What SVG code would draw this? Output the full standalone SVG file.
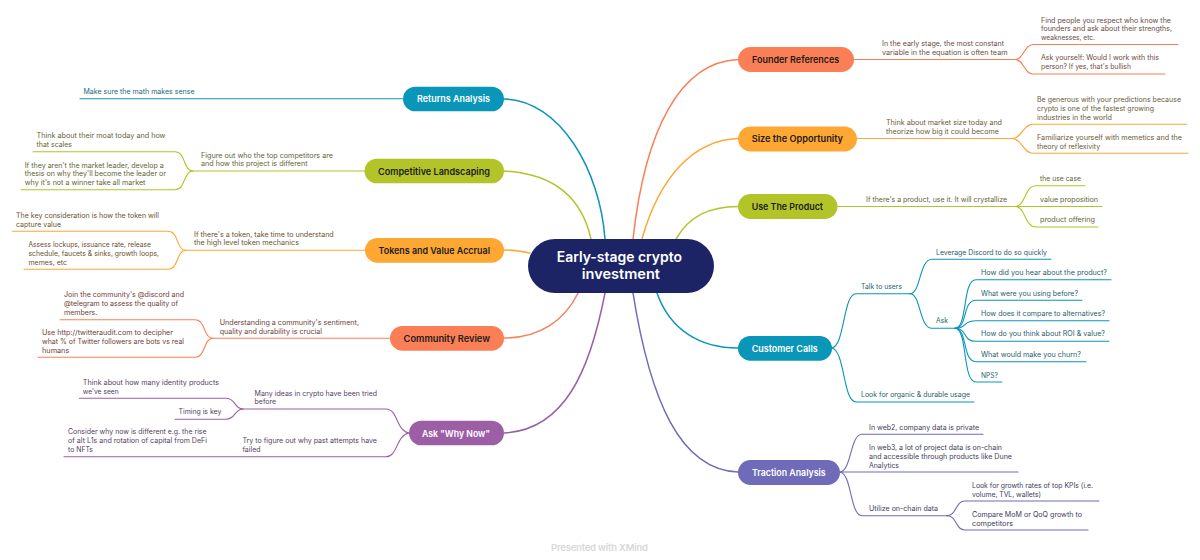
<svg xmlns="http://www.w3.org/2000/svg" width="1200" height="560" viewBox="0 0 1200 560">
<style>
text{font-family:"Inter","Open Sans","Liberation Sans",sans-serif;font-size:7.3px;font-weight:400}
.n text{font-size:9.2px;font-weight:600;fill:#1c1c1c}
.n text.w{fill:#fff}
.c text{font-size:14px;font-weight:600;fill:#fff}
path{fill:none;stroke-linecap:round}
.m{stroke-width:1.5}
.s{stroke-width:1.1}
.red{stroke:#fb7f56}.ora{stroke:#ffa733}.oli{stroke:#b3c428}.blu{stroke:#0a96b8}.vio{stroke:#6f6bb8}.pur{stroke:#9c5fa6}
.tred text{fill:#6e4a3f}.tora text{fill:#6b5a3c}.toli text{fill:#5f6534}.tblu text{fill:#2a5f6e}.tvio text{fill:#3f3d5c}.tpur text{fill:#55415f}
.tcom text{fill:#6e4238}.ttok text{fill:#6b5230}.tret text{fill:#1b6a7c}
</style>
<rect width="1200" height="560" fill="#fff"/>
<g id="connectors">
<path class="m red" d="M633 239C645 130 680 62 738 59.5"/>
<path class="m ora" d="M642 239C660 175 695 140 738 138.5"/>
<path class="m oli" d="M676 239C690 215 710 207 738 206.5"/>
<path class="m blu" d="M657 293C670 330 700 348 738 348"/>
<path class="m vio" d="M633 293C650 400 680 470 738 472"/>
<path class="m blu" d="M605 239C600 170 560 100 504 99"/>
<path class="m oli" d="M591 239C580 190 545 173 504 171"/>
<path class="m ora" d="M530 253C520 251 512 250 504 250"/>
<path class="m red" d="M578 293C565 320 540 338 504 338"/>
<path class="m pur" d="M605 293C590 370 565 430 504 433"/>

<path class="s red" d="M853 59.5H1015"/>
<path class="s red" d="M1015 59.5C1024 59.5 1024 44.5 1033 44.5H1178"/>
<path class="s red" d="M1015 59.5C1024 59.5 1024 74 1033 74H1165"/>
<path class="s ora" d="M857 138.5H1012"/>
<path class="s ora" d="M1012 138.5C1022 138.5 1023 124.3 1033 124.3H1187"/>
<path class="s ora" d="M1012 138.5C1022 138.5 1023 153.3 1033 153.3H1188"/>
<path class="s oli" d="M837 206.5H1102"/>
<path class="s oli" d="M1015 206.5C1026 206.5 1024 185.7 1036 185.7H1085"/>
<path class="s oli" d="M1015 206.5C1026 206.5 1024 227 1036 227H1098"/>

<path class="s blu" d="M832 348C845 345 843 293.7 856 293.7H910"/>
<path class="s blu" d="M832 348C845 351 843 402 856 402H974"/>
<path class="s blu" d="M910 293.7C921 293.7 919 259.3 932 259.3H1051"/>
<path class="s blu" d="M910 293.7C921 293.7 919 328.3 932 328.3H955"/>
<path class="s blu" d="M955 328.3C968 328 962 279.7 976 279.7H1111"/>
<path class="s blu" d="M955 328.3C968 328 962 300.3 976 300.3H1082"/>
<path class="s blu" d="M955 328.3C968 328 962 320.7 976 320.7H1109"/>
<path class="s blu" d="M955 328.3C968 328.6 962 341.3 976 341.3H1109"/>
<path class="s blu" d="M955 328.3C968 328.6 962 361.7 976 361.7H1086"/>
<path class="s blu" d="M955 328.3C968 328.6 962 382 976 382H1002"/>

<path class="s vio" d="M840 472C852 470 850 434.3 862 434.3H983"/>
<path class="s vio" d="M840 472H1018"/>
<path class="s vio" d="M840 472C852 474 850 515.7 862 515.7H947"/>
<path class="s vio" d="M947 515.7C957 515.7 955 501 965 501H1099"/>
<path class="s vio" d="M947 515.7C957 515.7 955 530 965 530H1088"/>

<path class="s blu" d="M403 98.7H80"/>
<path class="s oli" d="M365 171H193"/>
<path class="s oli" d="M193 171C183 171 186 151.7 175 151.7H33"/>
<path class="s oli" d="M193 171C183 171 186 189.7 175 189.7H21"/>
<path class="s ora" d="M365 250.3H186"/>
<path class="s ora" d="M186 250.3C176 250.3 179 231.3 168 231.3H12.5"/>
<path class="s ora" d="M186 250.3C176 250.3 179 269.3 168 269.3H24"/>
<path class="s red" d="M390 338.3H213"/>
<path class="s red" d="M213 338.3C203 338.3 206 319.7 195 319.7H60"/>
<path class="s red" d="M213 338.3C203 338.3 206 357.3 195 357.3H38"/>
<path class="s pur" d="M409 433C396 431 398 409 386 409H243"/>
<path class="s pur" d="M409 433C396 435 398 456.7 386 456.7H64"/>
<path class="s pur" d="M243 409C234 409 236 398.3 226 398.3H79.4"/>
<path class="s pur" d="M243 409C234 409 236 419.3 226 419.3H175"/>
</g>

<g id="central" class="c">
<rect x="528" y="239" width="186" height="54" rx="27" fill="#1c2466"/>
<text x="556.7" y="262" textLength="125.3" lengthAdjust="spacingAndGlyphs">Early-stage crypto</text>
<text x="581.7" y="279" textLength="78.3" lengthAdjust="spacingAndGlyphs">investment</text>
</g>

<g id="founder-references" class="n"><rect x="738" y="47" width="116" height="25" rx="12.5" fill="#fb7f56"/><text x="752" y="63" textLength="87.3" lengthAdjust="spacingAndGlyphs">Founder References</text></g>
<g id="size-the-opportunity" class="n"><rect x="738" y="126.5" width="119" height="25" rx="12.5" fill="#ffa733"/><text x="751.7" y="142" textLength="91.3" lengthAdjust="spacingAndGlyphs">Size the Opportunity</text></g>
<g id="use-the-product" class="n"><rect x="738" y="194" width="99.5" height="25" rx="12.5" fill="#b3c428"/><text x="751.7" y="210" textLength="71.3" lengthAdjust="spacingAndGlyphs">Use The Product</text></g>
<g id="customer-calls" class="n"><rect x="738" y="336" width="94" height="24.7" rx="12.3" fill="#0a96b8"/><text class="w" x="751.7" y="351.5" textLength="66" lengthAdjust="spacingAndGlyphs">Customer Calls</text></g>
<g id="traction-analysis" class="n"><rect x="738" y="460" width="102" height="25" rx="12.5" fill="#6f6bb8"/><text class="w" x="752" y="475.7" textLength="73.7" lengthAdjust="spacingAndGlyphs">Traction Analysis</text></g>
<g id="returns-analysis" class="n"><rect x="403" y="86.7" width="101" height="24.6" rx="12.3" fill="#0a96b8"/><text class="w" x="417" y="102.2" textLength="73" lengthAdjust="spacingAndGlyphs">Returns Analysis</text></g>
<g id="competitive-landscaping" class="n"><rect x="364.5" y="158.7" width="139.5" height="24.6" rx="12.3" fill="#b3c428"/><text x="378" y="174.5" textLength="112" lengthAdjust="spacingAndGlyphs">Competitive Landscaping</text></g>
<g id="tokens-and-value-accrual" class="n"><rect x="365" y="238" width="139" height="24.7" rx="12.3" fill="#ffa733"/><text x="378.6" y="253.8" textLength="111.4" lengthAdjust="spacingAndGlyphs">Tokens and Value Accrual</text></g>
<g id="community-review" class="n"><rect x="390" y="326" width="114" height="24.7" rx="12.3" fill="#fb7f56"/><text x="403.6" y="341.8" textLength="86.4" lengthAdjust="spacingAndGlyphs">Community Review</text></g>
<g id="ask-why-now" class="n"><rect x="409" y="420.7" width="95" height="24.6" rx="12.3" fill="#9c5fa6"/><text class="w" x="422" y="436.5" textLength="68" lengthAdjust="spacingAndGlyphs">Ask "Why Now"</text></g>

<g id="founder-team" class="tred"><text x="882" y="46" textLength="122" lengthAdjust="spacingAndGlyphs">In the early stage, the most constant</text><text x="882" y="55" textLength="125.5" lengthAdjust="spacingAndGlyphs">variable in the equation is often team</text></g>
<g id="founder-find" class="tred"><text x="1041" y="22.5" textLength="130" lengthAdjust="spacingAndGlyphs">Find people you respect who know the</text><text x="1041" y="31.3" textLength="131" lengthAdjust="spacingAndGlyphs">founders and ask about their strengths,</text><text x="1041" y="40" textLength="54" lengthAdjust="spacingAndGlyphs">weaknesses, etc.</text></g>
<g id="founder-ask" class="tred"><text x="1041" y="60" textLength="118" lengthAdjust="spacingAndGlyphs">Ask yourself: Would I work with this</text><text x="1041" y="69" textLength="90" lengthAdjust="spacingAndGlyphs">person? If yes, that's bullish</text></g>

<g id="size-think" class="tora"><text x="886" y="125" textLength="116" lengthAdjust="spacingAndGlyphs">Think about market size today and</text><text x="886" y="134" textLength="113" lengthAdjust="spacingAndGlyphs">theorize how big it could become</text></g>
<g id="size-generous" class="tora"><text x="1037" y="102" textLength="144" lengthAdjust="spacingAndGlyphs">Be generous with your predictions because</text><text x="1037" y="111" textLength="117" lengthAdjust="spacingAndGlyphs">crypto is one of the fastest growing</text><text x="1037" y="119.7" textLength="75" lengthAdjust="spacingAndGlyphs">industries in the world</text></g>
<g id="size-memetics" class="tora"><text x="1037" y="139.5" textLength="145" lengthAdjust="spacingAndGlyphs">Familiarize yourself with memetics and the</text><text x="1037" y="148.5" textLength="63" lengthAdjust="spacingAndGlyphs">theory of reflexivity</text></g>

<g id="use-crystallize" class="toli"><text x="866" y="201.5" textLength="141" lengthAdjust="spacingAndGlyphs">If there's a product, use it. It will crystallize</text></g>
<g id="use-case" class="toli"><text x="1040" y="181" textLength="41" lengthAdjust="spacingAndGlyphs">the use case</text></g>
<g id="use-value" class="toli"><text x="1040" y="201.5" textLength="58" lengthAdjust="spacingAndGlyphs">value proposition</text></g>
<g id="use-offering" class="toli"><text x="1040" y="222" textLength="55" lengthAdjust="spacingAndGlyphs">product offering</text></g>

<g id="calls-talk" class="tblu"><text x="861" y="289" textLength="41" lengthAdjust="spacingAndGlyphs">Talk to users</text></g>
<g id="calls-look" class="tblu"><text x="861" y="397" textLength="109" lengthAdjust="spacingAndGlyphs">Look for organic &amp; durable usage</text></g>
<g id="calls-discord" class="tblu"><text x="936" y="254.5" textLength="111" lengthAdjust="spacingAndGlyphs">Leverage Discord to do so quickly</text></g>
<g id="calls-ask" class="tblu"><text x="936" y="323" textLength="12" lengthAdjust="spacingAndGlyphs">Ask</text></g>
<g id="calls-q1" class="tblu"><text x="981" y="275" textLength="126" lengthAdjust="spacingAndGlyphs">How did you hear about the product?</text></g>
<g id="calls-q2" class="tblu"><text x="981" y="295.5" textLength="97" lengthAdjust="spacingAndGlyphs">What were you using before?</text></g>
<g id="calls-q3" class="tblu"><text x="981" y="316" textLength="124" lengthAdjust="spacingAndGlyphs">How does it compare to alternatives?</text></g>
<g id="calls-q4" class="tblu"><text x="981" y="336.3" textLength="124" lengthAdjust="spacingAndGlyphs">How do you think about ROI &amp; value?</text></g>
<g id="calls-q5" class="tblu"><text x="981" y="357" textLength="100" lengthAdjust="spacingAndGlyphs">What would make you churn?</text></g>
<g id="calls-q6" class="tblu"><text x="981" y="377.5" textLength="17" lengthAdjust="spacingAndGlyphs">NPS?</text></g>

<g id="traction-web2" class="tvio"><text x="869" y="430" textLength="110" lengthAdjust="spacingAndGlyphs">In web2, company data is private</text></g>
<g id="traction-web3" class="tvio"><text x="869" y="449.5" textLength="133" lengthAdjust="spacingAndGlyphs">In web3, a lot of project data is on-chain</text><text x="869" y="458.5" textLength="143" lengthAdjust="spacingAndGlyphs">and accessible through products like Dune</text><text x="869" y="467.5" textLength="30" lengthAdjust="spacingAndGlyphs">Analytics</text></g>
<g id="traction-utilize" class="tvio"><text x="869" y="510.5" textLength="69" lengthAdjust="spacingAndGlyphs">Utilize on-chain data</text></g>
<g id="traction-kpis" class="tvio"><text x="972" y="487.5" textLength="121" lengthAdjust="spacingAndGlyphs">Look for growth rates of top KPIs (i.e.</text><text x="972" y="496.5" textLength="69" lengthAdjust="spacingAndGlyphs">volume, TVL, wallets)</text></g>
<g id="traction-compare" class="tvio"><text x="972" y="516.5" textLength="110" lengthAdjust="spacingAndGlyphs">Compare MoM or QoQ growth to</text><text x="972" y="525.5" textLength="41" lengthAdjust="spacingAndGlyphs">competitors</text></g>

<g id="returns-math" class="tret"><text x="83.5" y="93.8" textLength="111" lengthAdjust="spacingAndGlyphs">Make sure the math makes sense</text></g>
<g id="comp-figure" class="toli"><text x="201" y="157.5" textLength="132" lengthAdjust="spacingAndGlyphs">Figure out who the top competitors are</text><text x="201" y="166.2" textLength="106.6" lengthAdjust="spacingAndGlyphs">and how this project is different</text></g>
<g id="comp-moat" class="toli"><text x="36.5" y="138.2" textLength="129" lengthAdjust="spacingAndGlyphs">Think about their moat today and how</text><text x="36.5" y="147.2" textLength="35.5" lengthAdjust="spacingAndGlyphs">that scales</text></g>
<g id="comp-leader" class="toli"><text x="24.7" y="167.5" textLength="139" lengthAdjust="spacingAndGlyphs">If they aren't the market leader, develop a</text><text x="24.7" y="176.2" textLength="141.3" lengthAdjust="spacingAndGlyphs">thesis on why they'll become the leader or</text><text x="24.7" y="185.2" textLength="120.7" lengthAdjust="spacingAndGlyphs">why it's not a winner take all market</text></g>

<g id="tok-token" class="ttok"><text x="194" y="236.5" textLength="139.7" lengthAdjust="spacingAndGlyphs">If there's a token, take time to understand</text><text x="194" y="245.2" textLength="105" lengthAdjust="spacingAndGlyphs">the high level token mechanics</text></g>
<g id="tok-key" class="ttok"><text x="16" y="217.5" textLength="143" lengthAdjust="spacingAndGlyphs">The key consideration is how the token will</text><text x="16" y="226.5" textLength="45" lengthAdjust="spacingAndGlyphs">capture value</text></g>
<g id="tok-assess" class="ttok"><text x="28.4" y="246.8" textLength="122.6" lengthAdjust="spacingAndGlyphs">Assess lockups, issuance rate, release</text><text x="28.4" y="255.8" textLength="130.6" lengthAdjust="spacingAndGlyphs">schedule, faucets &amp; sinks, growth loops,</text><text x="28.4" y="264.5" textLength="38.6" lengthAdjust="spacingAndGlyphs">memes, etc</text></g>

<g id="com-understand" class="tcom"><text x="219.7" y="324.8" textLength="139.3" lengthAdjust="spacingAndGlyphs">Understanding a community's sentiment,</text><text x="219.7" y="333.5" textLength="102.3" lengthAdjust="spacingAndGlyphs">quality and durability is crucial</text></g>
<g id="com-join" class="tcom"><text x="64" y="296.8" textLength="120" lengthAdjust="spacingAndGlyphs">Join the community's @discord and</text><text x="64" y="305.8" textLength="114" lengthAdjust="spacingAndGlyphs">@telegram to assess the quality of</text><text x="64" y="314.5" textLength="33.4" lengthAdjust="spacingAndGlyphs">members.</text></g>
<g id="com-audit" class="tcom"><text x="42" y="334.8" textLength="131" lengthAdjust="spacingAndGlyphs">Use http://twitteraudit.com to decipher</text><text x="42" y="343.8" textLength="142" lengthAdjust="spacingAndGlyphs">what % of Twitter followers are bots vs real</text><text x="42" y="352.5" textLength="27.3" lengthAdjust="spacingAndGlyphs">humans</text></g>

<g id="why-many" class="tpur"><text x="254.6" y="395.5" textLength="122.4" lengthAdjust="spacingAndGlyphs">Many ideas in crypto have been tried</text><text x="254.6" y="404.2" textLength="21.4" lengthAdjust="spacingAndGlyphs">before</text></g>
<g id="why-try" class="tpur"><text x="242.4" y="442.8" textLength="134.6" lengthAdjust="spacingAndGlyphs">Try to figure out why past attempts have</text><text x="242.4" y="451.8" textLength="18.2" lengthAdjust="spacingAndGlyphs">failed</text></g>
<g id="why-identity" class="tpur"><text x="82.8" y="385.2" textLength="136.2" lengthAdjust="spacingAndGlyphs">Think about how many identity products</text><text x="82.8" y="393.8" textLength="35.9" lengthAdjust="spacingAndGlyphs">we've seen</text></g>
<g id="why-timing" class="tpur"><text x="178.5" y="414.2" textLength="42.9" lengthAdjust="spacingAndGlyphs">Timing is key</text></g>
<g id="why-consider" class="tpur"><text x="68" y="434.2" textLength="138.6" lengthAdjust="spacingAndGlyphs">Consider why now is different e.g. the rise</text><text x="68" y="442.8" textLength="139" lengthAdjust="spacingAndGlyphs">of alt L1s and rotation of capital from DeFi</text><text x="68" y="451.8" textLength="25" lengthAdjust="spacingAndGlyphs">to NFTs</text></g>

<text x="551" y="551" textLength="97" style="font-size:9.5px;font-weight:600;fill:#d8d8d8">Presented with XMind</text>
</svg>
